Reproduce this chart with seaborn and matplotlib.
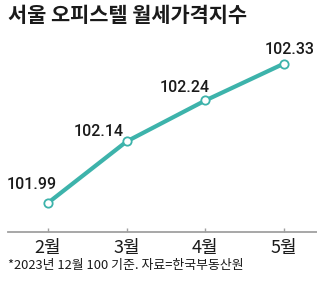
import matplotlib
matplotlib.use("Agg")
import matplotlib.pyplot as plt
import seaborn as sns
import pandas as pd

months = ["2월", "3월", "4월", "5월"]
values = [101.99, 102.14, 102.24, 102.33]
title = "서울 오피스텔 월세가격지수"
note = "*2023년 12월 100 기준. 자료=한국부동산원"

sns.set_theme(style="white")
plt.rcParams["font.family"] = ["Noto Sans CJK KR", "DejaVu Sans"]

W, H = 317, 300
fig = plt.figure(figsize=(W / 100, H / 100), dpi=100)
ax = fig.add_axes([8 / W, (H - 232) / H, (317 - 8) / W, 202 / H])

df = pd.DataFrame({"month": months, "value": values})
teal = "#3db3ab"
sns.lineplot(data=df, x="month", y="value", ax=ax, sort=False, color=teal,
             linewidth=3.0, marker="o", markersize=6, markerfacecolor="white",
             markeredgecolor=teal, markeredgewidth=1.3)

ax.set_xlim(-0.508, 3.419)
ax.set_ylim(101.919, 102.412)

offsets = [(-16, 18), (-28, 10), (-21, 13), (6, 14)]
for i, (v, off) in enumerate(zip(values, offsets)):
    ax.annotate(f"{v:.2f}", (i, v), xytext=(off[0], off[1]), textcoords="offset pixels",
                ha="center", va="center", fontsize=11.5, color="#1a1a1a",
                fontweight="medium", family=["Roboto", "DejaVu Sans"])

for s in ["top", "left", "right"]:
    ax.spines[s].set_visible(False)
ax.spines["bottom"].set_color("#a0a0a0")
ax.spines["bottom"].set_linewidth(1.3)
ax.set_yticks([])
ax.set_xlabel("")
ax.set_ylabel("")
ax.tick_params(axis="x", direction="in", length=3, width=1, color="#a0a0a0",
               bottom=True, pad=5, labelsize=13, labelcolor="#1a1a1a")

fig.text(8 / W, 1 - 5 / H, title, ha="left", va="top", fontsize=15,
         fontweight="bold", color="#1a1a1a")
fig.text(8 / W, 1 - 265 / H, note, ha="left", va="center", fontsize=9.3,
         color="#1a1a1a")

fig.savefig("out.png", dpi=100, facecolor="white")
